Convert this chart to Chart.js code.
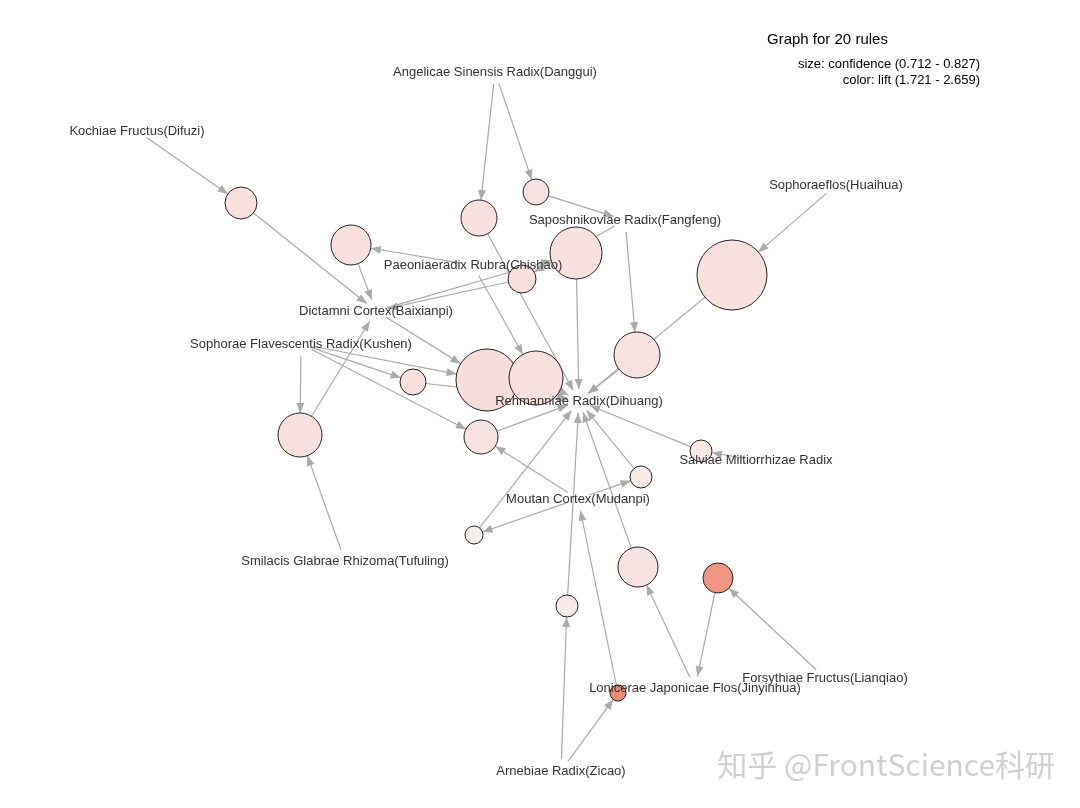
<!DOCTYPE html>
<html>
<head>
<meta charset="utf-8">
<script src="https://cdn.jsdelivr.net/npm/chart.js@4/dist/chart.umd.min.js"></script>
<style>
  body { margin: 0; background: #fff; }
  #wrap { width: 1080px; height: 808px; }
</style>
</head>
<body>
<div id="wrap"><canvas id="graph"></canvas></div>
<script>
// item labels (herbs) and where they sit in the layout
let itemNames = ['Angelicae Sinensis Radix(Danggui)', 'Kochiae Fructus(Difuzi)', 'Sophoraeflos(Huaihua)',
    'Saposhnikoviae Radix(Fangfeng)', 'Paeoniaeradix Rubra(Chishao)', 'Dictamni Cortex(Baixianpi)',
    'Sophorae Flavescentis Radix(Kushen)', 'Rehmanniae Radix(Dihuang)', 'Salviae Miltiorrhizae Radix',
    'Moutan Cortex(Mudanpi)', 'Smilacis Glabrae Rhizoma(Tufuling)', 'Forsythiae Fructus(Lianqiao)',
    'Lonicerae Japonicae Flos(Jinyinhua)', 'Arnebiae Radix(Zicao)'];
let itemX = [495, 137, 836, 625, 473, 376, 301, 579, 756, 578, 345, 825, 695, 561];
let itemY = [72, 131, 185, 220, 265, 311, 344, 401, 460, 499, 561, 678, 688, 771];

// rule nodes
let ruleX = [241, 351, 479, 536, 576, 522, 732, 637, 487, 536, 413, 300, 481, 701, 641, 474, 638, 718, 567, 618];
let ruleY = [203, 245, 218, 192, 253, 279, 275, 355, 380, 378, 382, 435, 437, 451, 477, 535, 567, 578, 606, 693];
let ruleR = [16, 20, 18, 13, 26, 14, 35, 23, 31, 27, 13, 22, 17, 11, 11, 9, 20, 15, 11, 8];
let ruleLift = [1.85, 1.85, 1.85, 1.82, 1.85, 1.85, 1.85, 1.83, 1.87, 1.85, 1.85, 1.85, 1.82, 1.78, 1.76, 1.72, 1.82, 2.55, 1.76, 2.66];

// lhs items -> rule, rule -> rhs item
let ruleLhs = [[1], [4], [0], [0], [5], [3], [2], [3], [5, 6], [4], [6], [10, 6], [9, 6], [8], [9], [9], [12], [11], [13], [13]];
let ruleRhs = [5, 5, 7, 3, 7, 5, 7, 7, 7, 7, 7, 5, 7, 7, 7, 7, 7, 12, 7, 9];

function liftColor(l) {
    let t = (l - 1.721) / (2.659 - 1.721);
    let r = Math.round(248 - 8 * t), g = Math.round(238 - 100 * t), b = Math.round(238 - 120 * t);
    return 'rgb(' + r + ',' + g + ',' + b + ')';
}

function drawArrow(ctx, x1, y1, x2, y2, s1, s2) {
    let dx = x2 - x1, dy = y2 - y1, len = Math.hypot(dx, dy);
    let ux = dx / len, uy = dy / len;
    let ax = x1 + ux * s1, ay = y1 + uy * s1;
    let bx = x2 - ux * s2, by = y2 - uy * s2;
    ctx.beginPath();
    ctx.moveTo(ax, ay);
    ctx.lineTo(bx, by);
    ctx.stroke();
    ctx.beginPath();
    ctx.moveTo(bx, by);
    ctx.lineTo(bx - ux * 10 - uy * 4, by - uy * 10 + ux * 4);
    ctx.lineTo(bx - ux * 10 + uy * 4, by - uy * 10 - ux * 4);
    ctx.closePath();
    ctx.fill();
}

const graphPlugin = {
    id: 'graph',
    beforeDatasetsDraw(chart) {
        const ctx = chart.ctx, xs = chart.scales.x, ys = chart.scales.y;
        ctx.save();
        ctx.strokeStyle = '#aaaaaa';
        ctx.fillStyle = '#aaaaaa';
        ctx.lineWidth = 1.2;
        for (let i = 0; i < ruleX.length; i++) {
            let rx = xs.getPixelForValue(ruleX[i]), ry = ys.getPixelForValue(ruleY[i]);
            ruleLhs[i].forEach(function (k) {
                drawArrow(ctx, xs.getPixelForValue(itemX[k]), ys.getPixelForValue(itemY[k]), rx, ry, 12, ruleR[i]);
            });
            let k = ruleRhs[i];
            drawArrow(ctx, rx, ry, xs.getPixelForValue(itemX[k]), ys.getPixelForValue(itemY[k]), ruleR[i], 12);
        }
        ctx.restore();
    },
    afterDatasetsDraw(chart) {
        const ctx = chart.ctx, xs = chart.scales.x, ys = chart.scales.y;
        ctx.save();
        ctx.fillStyle = '#333';
        ctx.font = '13px "Liberation Sans", Arial, sans-serif';
        ctx.textAlign = 'center';
        ctx.textBaseline = 'middle';
        for (let k = 0; k < itemNames.length; k++) {
            ctx.fillText(itemNames[k], xs.getPixelForValue(itemX[k]), ys.getPixelForValue(itemY[k]));
        }
        ctx.fillStyle = '#000';
        ctx.font = '15px "Liberation Sans", Arial, sans-serif';
        ctx.textAlign = 'left';
        ctx.fillText('Graph for 20 rules', 767, 40);
        ctx.font = '13px "Liberation Sans", Arial, sans-serif';
        ctx.textAlign = 'right';
        ctx.fillText('size: confidence (0.712 - 0.827)', 980, 64);
        ctx.fillText('color: lift (1.721 - 2.659)', 980, 80);
        ctx.fillStyle = 'rgba(200,200,200,0.85)';
        ctx.font = '30px "Noto Sans CJK SC", sans-serif';
        ctx.fillText('知乎 @FrontScience科研', 1055, 765);
        ctx.restore();
    }
};

const ctx = document.getElementById('graph');
new Chart(ctx, {
    type: 'bubble',
    data: {
        datasets: [{
            data: ruleX.map(function (x, i) { return { x: x, y: ruleY[i], r: ruleR[i] }; }),
            backgroundColor: ruleLift.map(liftColor),
            borderColor: '#222',
            borderWidth: 1,
            hoverRadius: 0
        }]
    },
    options: {
        responsive: true,
        maintainAspectRatio: false,
        animation: false,
        layout: { padding: 0, autoPadding: false },
        plugins: { legend: { display: false }, tooltip: { enabled: false } },
        scales: {
            x: { type: 'linear', min: 0, max: 1080, display: false },
            y: { type: 'linear', min: 0, max: 808, reverse: true, display: false }
        }
    },
    plugins: [graphPlugin]
});
</script>
</body>
</html>
